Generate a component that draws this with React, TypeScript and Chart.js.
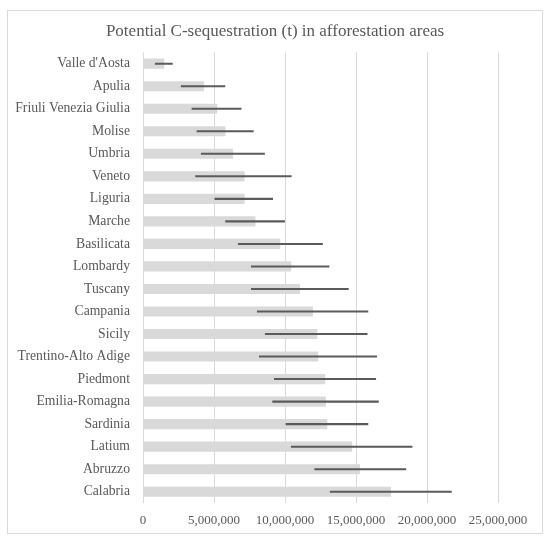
import React, { useEffect, useRef } from "react";
import { Chart, registerables } from "chart.js";

Chart.register(...registerables);

const categories = [
  "Valle d'Aosta", "Apulia", "Friuli Venezia Giulia", "Molise", "Umbria",
  "Veneto", "Liguria", "Marche", "Basilicata", "Lombardy",
  "Tuscany", "Campania", "Sicily", "Trentino-Alto Adige", "Piedmont",
  "Emilia-Romagna", "Sardinia", "Latium", "Abruzzo", "Calabria",
];

const values = [
  1500000, 4290000, 5230000, 5800000, 6340000,
  7160000, 7160000, 7920000, 9670000, 10440000,
  11060000, 11970000, 12270000, 12340000, 12830000,
  12880000, 12980000, 14730000, 15280000, 17470000,
];

const errorLow = [
  860000, 2690000, 3450000, 3800000, 4100000,
  3700000, 5060000, 5820000, 6710000, 7630000,
  7630000, 8050000, 8610000, 8190000, 9250000,
  9130000, 10070000, 10440000, 12090000, 13180000,
];

const errorHigh = [
  2070000, 5770000, 6910000, 7770000, 8560000,
  10440000, 9130000, 9970000, 12640000, 13100000,
  14460000, 15840000, 15790000, 16460000, 16390000,
  16580000, 15840000, 18950000, 18510000, 21720000,
];

const xTicks = [0, 5000000, 10000000, 15000000, 20000000, 25000000];

const TEXT = "#595959";
const FONT = "'Liberation Serif', 'Times New Roman', serif";

export default function App() {
  const ref = useRef<HTMLCanvasElement | null>(null);

  useEffect(() => {
    if (!ref.current) return;
    const chart = new Chart(ref.current, {
      type: "bar",
      data: {
        labels: categories,
        datasets: [
          {
            label: "Error",
            data: categories.map((_, i) => [errorLow[i], errorHigh[i]]),
            backgroundColor: "#5a5a5a",
            borderWidth: 0,
            barThickness: 1.4,
            grouped: false,
            order: 1,
          } as any,
          {
            label: "C-sequestration",
            data: values,
            backgroundColor: "#d9d9d9",
            borderWidth: 0,
            barPercentage: 0.45,
            categoryPercentage: 1,
            grouped: false,
            order: 2,
          } as any,
        ],
      },
      options: {
        indexAxis: "y",
        responsive: false,
        animation: false,
        layout: { padding: { left: 8, right: 8, top: 0, bottom: 0 } },
        plugins: {
          legend: { display: false },
          tooltip: { enabled: false },
          title: {
            display: true,
            text: "Potential C-sequestration (t) in afforestation areas",
            color: TEXT,
            font: { family: FONT, size: 17, weight: "normal" },
            padding: { top: 21, bottom: 11 },
          },
        },
        scales: {
          x: {
            min: 0,
            max: 25000000,
            afterBuildTicks: (scale: any) => {
              scale.ticks = xTicks.map((v) => ({ value: v }));
            },
            afterFit: (scale: any) => {
              scale.height = 37;
            },
            grid: { color: "#d9d9d9", drawTicks: false, lineWidth: 1 },
            border: { display: false },
            ticks: {
              color: TEXT,
              padding: 10,
              font: { family: FONT, size: 13 },
              callback: (v: any) => Number(v).toLocaleString("en-US"),
            },
          },
          y: {
            afterFit: (scale: any) => {
              scale.width = 135;
            },
            grid: { display: false, drawTicks: false },
            border: { display: false },
            ticks: {
              color: TEXT,
              padding: 13,
              font: { family: FONT, size: 13.7 },
            },
          },
          yRight: {
            type: "category",
            position: "right",
            labels: categories,
            afterFit: (scale: any) => {
              scale.width = 44;
            },
            grid: { display: false, drawTicks: false },
            border: { display: false },
            ticks: { display: false },
          },
        },
      },
    } as any);
    return () => chart.destroy();
  }, []);

  return (
    <div style={{ position: "absolute", left: 0, top: 0, width: 550, height: 540, background: "#fff" }}>
      <div
        style={{
          position: "absolute",
          left: 7,
          top: 10,
          width: 536,
          height: 524,
          boxSizing: "border-box",
          border: "1px solid #d9d9d9",
        }}
      />
      <canvas ref={ref} width={550} height={540} style={{ position: "absolute", left: 0, top: 0 }} />
    </div>
  );
}
